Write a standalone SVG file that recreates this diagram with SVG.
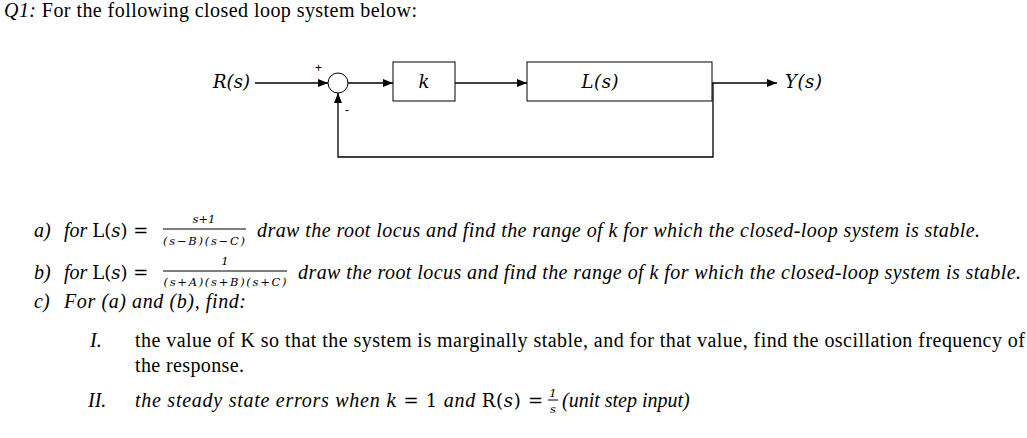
<svg xmlns="http://www.w3.org/2000/svg" width="1027" height="438" viewBox="0 0 1027 438">
<style>
.t{font-family:"Liberation Serif",serif;font-size:20px;fill:#000}
.i{font-style:italic}
.m{font-family:"DejaVu Serif","Liberation Serif",serif;font-size:18px;font-style:italic}
.n{font-family:"DejaVu Serif",serif;font-size:18px;font-style:normal}
.s{font-family:"DejaVu Serif",serif;font-size:11.5px;font-style:italic}
.ln{stroke:#000;stroke-width:1.3;fill:none}
.bx{stroke:#000;stroke-width:1;fill:#fff}
</style>
<defs><marker id="a" markerWidth="10" markerHeight="8" refX="10" refY="4" orient="auto" markerUnits="userSpaceOnUse"><path d="M0,0L10,4L0,8z"/></marker></defs>
<rect width="1027" height="438" fill="#fff"/>
<text class="t" x="4" y="17" textLength="413"><tspan class="i">Q1:</tspan> For the following closed loop system below:</text>
<g id="R"><text class="m" x="213" y="88" textLength="37">R(s)</text></g>
<g id="sum"><circle cx="338" cy="83" r="10" class="bx"/><text x="315" y="72" font-family="Liberation Sans" font-size="12">+</text><text x="345" y="114" font-family="Liberation Sans" font-size="12">-</text></g>
<g id="k"><rect class="bx" x="393" y="62" width="62" height="39"/><text class="m" x="424" y="88" text-anchor="middle">k</text></g>
<g id="L"><rect class="bx" x="527" y="62" width="185" height="39"/><text class="m" x="600" y="88" text-anchor="middle" textLength="37">L(s)</text></g>
<g id="Y"><text class="m" x="785" y="88" textLength="37">Y(s)</text></g>
<g id="connectors">
<line class="ln" x1="255" y1="83" x2="328" y2="83" marker-end="url(#a)"/>
<line class="ln" x1="348" y1="83" x2="393" y2="83" marker-end="url(#a)"/>
<line class="ln" x1="455" y1="83" x2="527" y2="83" marker-end="url(#a)"/>
<line class="ln" x1="712" y1="83" x2="777" y2="83" marker-end="url(#a)"/>
<polyline class="ln" points="713,83 713,157 338,157 338,93" marker-end="url(#a)"/>
</g>
<text class="t i" x="34" y="237">a)</text>
<text class="t" x="64" y="237"><tspan class="i">for</tspan> <tspan class="n">L(</tspan><tspan class="m">s</tspan><tspan class="n">) =</tspan></text>
<text class="s" x="204" y="223" text-anchor="middle">s+1</text>
<line x1="163" y1="229" x2="246" y2="229" stroke="#000"/>
<text class="s" x="204" y="245" text-anchor="middle" textLength="82">(s−B)(s−C)</text>
<text class="t i" x="257" y="237" textLength="723">draw the root locus and find the range of k for which the closed-loop system is stable.</text>
<text class="t i" x="34" y="279">b)</text>
<text class="t" x="64" y="279"><tspan class="i">for</tspan> <tspan class="n">L(</tspan><tspan class="m">s</tspan><tspan class="n">) =</tspan></text>
<text class="s" x="225" y="265" text-anchor="middle">1</text>
<line x1="163" y1="271" x2="287" y2="271" stroke="#000"/>
<text class="s" x="225" y="286" text-anchor="middle" textLength="123">(s+A)(s+B)(s+C)</text>
<text class="t i" x="298" y="279" textLength="723">draw the root locus and find the range of k for which the closed-loop system is stable.</text>
<text class="t i" x="34" y="308">c)</text>
<text class="t i" x="64" y="308" textLength="182">For (a) and (b), find:</text>
<text class="t i" x="90" y="347">I.</text>
<text class="t" x="135" y="347" textLength="890">the value of K so that the system is marginally stable, and for that value, find the oscillation frequency of</text>
<text class="t" x="135" y="372" textLength="109">the response.</text>
<text class="t i" x="88" y="407">II.</text>
<text class="t i" x="135" y="407" textLength="408">the steady state errors when <tspan class="m">k</tspan> <tspan class="n">= 1</tspan> and <tspan class="n">R(</tspan><tspan class="m">s</tspan><tspan class="n">) =</tspan></text>
<text class="s" x="553" y="397" text-anchor="middle" font-style="normal">1</text>
<line x1="548" y1="400" x2="558" y2="400" stroke="#000"/>
<text class="s" x="553" y="413" text-anchor="middle">s</text>
<text class="t i" x="562" y="407">(unit step input)</text>
</svg>
